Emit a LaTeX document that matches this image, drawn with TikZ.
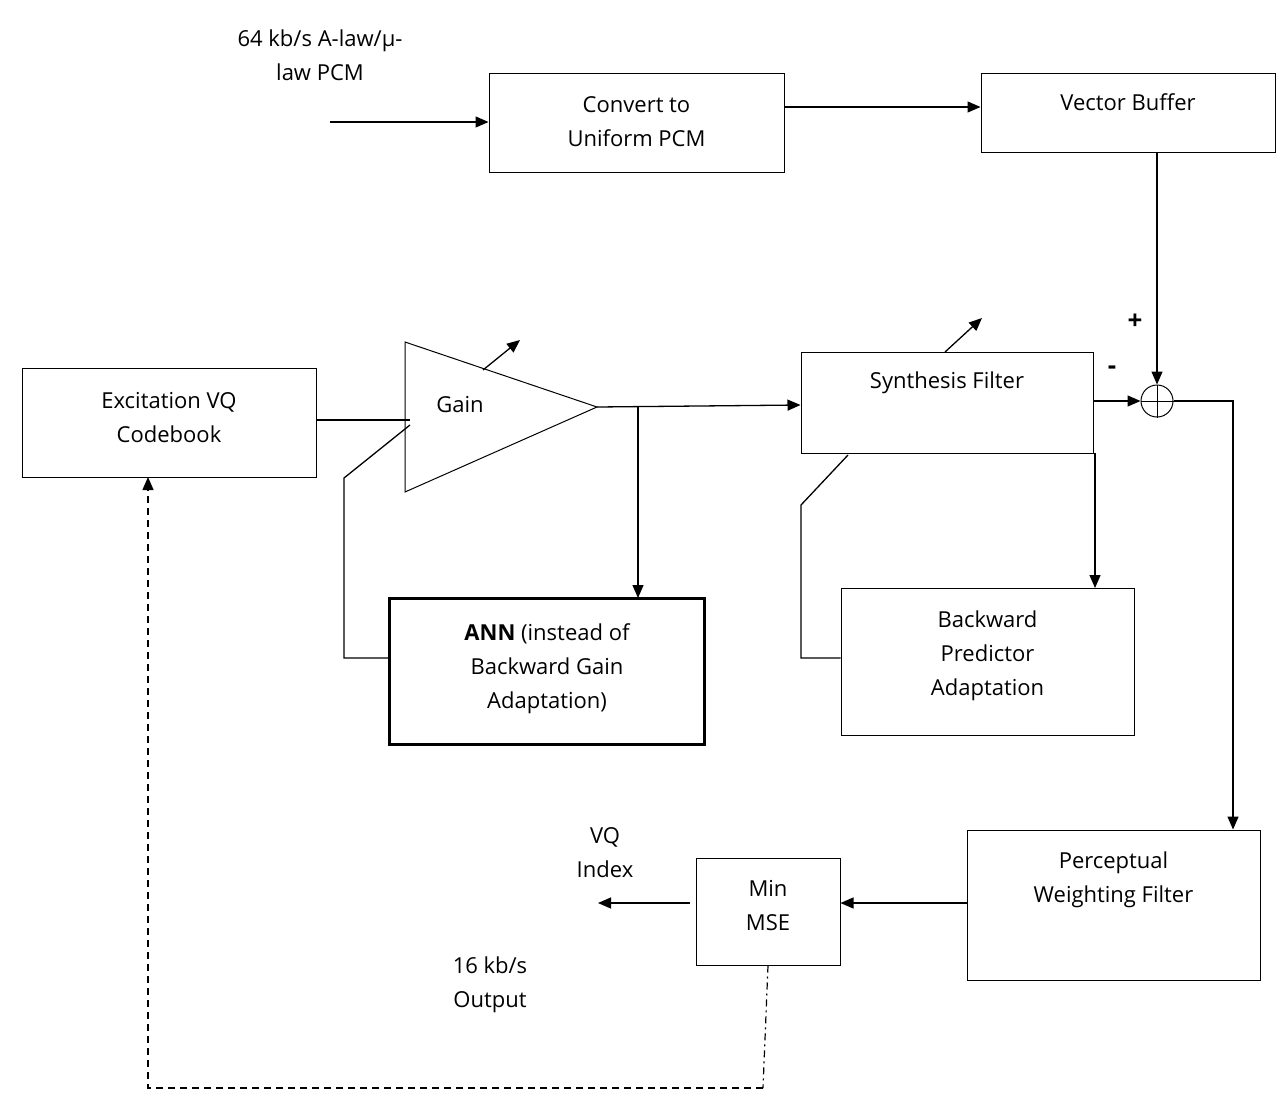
\documentclass[tikz,border=0pt]{standalone}
\usepackage{fontspec}
\setmainfont{Open Sans}
\usetikzlibrary{arrows.meta}
\begin{document}
\begin{tikzpicture}[x=1pt,y=-1pt,line width=1.3pt,
  box/.style={draw,line width=1pt,align=center,inner sep=0pt},
  lbl/.style={align=center,font=\fontsize{22}{34}\selectfont},
  arr/.style={-{Triangle[length=13pt,width=11pt]}}]
\useasboundingbox (0,0) rectangle (1284,1100);
\node[lbl] (in) at (320,55) {64 kb/s A-law/µ-\\law PCM};
\coordinate (ins) at (330,122);
\node[box,minimum width=295pt,minimum height=99pt] (conv) at (636.5,122.5) {};
\node[lbl] at (636.5,122) {Convert to\\Uniform PCM};
\node[box,minimum width=294pt,minimum height=79pt] (vb) at (1128,112.5) {};
\node[lbl] at (1128,102) {Vector Buffer};
\node[draw,circle,minimum size=32pt,inner sep=0pt,line width=1pt] (sum) at (1157,401) {};
\draw[line width=1pt] (sum.north)--(sum.south) (sum.west)--(sum.east);
\node[lbl,font=\fontsize{26}{30}\selectfont] at (1135,322) {\textbf{+}};
\node[lbl,font=\fontsize{26}{30}\selectfont] at (1112,370) {\textbf{-}};
\node[box,minimum width=294pt,minimum height=109pt] (exc) at (169,422.5) {};
\node[lbl] at (169,418) {Excitation VQ\\Codebook};
\coordinate (t1) at (405,342); \coordinate (t2) at (405,492); \coordinate (t3) at (597,407);
\draw[line width=1pt] (t1)--(t3)--(t2)--cycle;
\node[lbl] (gain) at (460,405) {Gain};
\node[box,line width=2.8pt,minimum width=315pt,minimum height=146pt] (ann) at (547,671.5) {};
\node[lbl] at (547,669) {\textbf{ANN} (instead of\\Backward Gain\\Adaptation)};
\node[box,minimum width=292pt,minimum height=101pt] (syn) at (947,402.5) {};
\node[lbl] at (947,383) {Synthesis Filter};
\node[box,minimum width=293pt,minimum height=147pt] (bpa) at (987.5,661.5) {};
\node[lbl] at (987.5,656) {Backward\\Predictor\\Adaptation};
\node[box,minimum width=293pt,minimum height=150pt] (pwf) at (1113.5,905) {};
\node[lbl] at (1113.5,880) {Perceptual\\Weighting Filter};
\node[box,minimum width=144pt,minimum height=107pt] (mse) at (768,911.5) {};
\node[lbl] at (768,906) {Min\\MSE};
\node[lbl] (vq) at (605,853) {VQ\\Index};
\coordinate (vqe) at (598,903);
\node[lbl] (out) at (490,985) {16 kb/s\\Output};
\coordinate (fb) at (148,477);
\coordinate (c1) at (1233,401);
\coordinate (c2) at (763,1088);
% connectors
\draw[arr] (ins)--(conv.west|-ins);
\draw[arr] (conv.east|-0,107)--(vb.west|-0,107);
\draw[arr] (sum.north|-vb.south)--(sum.north);
\draw (exc.east|-0,420)--(410,420);
\draw (ann.west|-0,658)--(344,658)--(344,478)--(410,425);
\draw[arr] (483,370)--(520,340);
\draw[arr] (t3)--(syn.west|-0,405);
\draw[arr] (638,407)--(638,598);
\draw[arr] (945,352)--(982,318);
\draw[arr] (syn.east|-sum.west)--(sum.west);
\draw[arr] (1095,453)--(1095,588);
\draw (bpa.west|-0,658)--(801,658)--(801,505)--(848,455);
\draw[arr] (sum.east)--(c1)--(c1|-pwf.north);
\draw[arr] (pwf.west|-0,903)--(mse.east|-0,903);
\draw[arr] (690,903)--(vqe);
\draw[line width=1.2pt,dash pattern=on 7pt off 4pt on 2pt off 4pt] (mse.south)--(c2);
\draw[arr,line width=1.4pt,dash pattern=on 7pt off 5pt] (c2)--(148,1088)--(fb);
\end{tikzpicture}
\end{document}
